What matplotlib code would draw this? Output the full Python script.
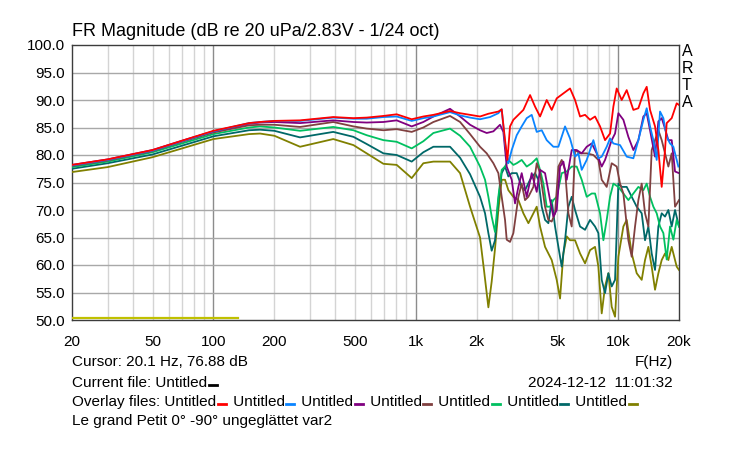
import matplotlib
matplotlib.use("Agg")
import matplotlib.pyplot as plt
from matplotlib.lines import Line2D

# ---- data ----
# common low-frequency points (Hz)
f_lo = [20, 30, 50, 70, 100, 150, 170, 200, 268, 391, 492, 572, 692, 805, 955, 1090, 1222, 1477, 1656, 1855]

red_lo = [78.2, 79.2, 80.9, 82.6, 84.4, 85.8, 86.0, 86.2, 86.3, 86.9, 86.7, 86.8, 87.1, 87.4, 86.5, 87.0, 87.3, 88.0, 87.6, 87.3]
blue_lo = [78.1, 79.1, 80.8, 82.5, 84.3, 85.8, 86.0, 86.2, 86.2, 86.8, 86.6, 86.6, 86.9, 87.0, 86.2, 86.7, 87.0, 87.8, 87.2, 86.8]
purple_lo = [78.2, 79.2, 80.9, 82.6, 84.3, 85.7, 85.9, 86.0, 85.8, 86.3, 86.0, 85.9, 86.0, 86.3, 85.2, 86.0, 87.0, 88.4, 87.0, 85.5]
brown_lo = [78.0, 79.0, 80.7, 82.4, 84.1, 85.4, 85.5, 85.5, 85.1, 86.0, 85.2, 84.8, 84.5, 84.7, 84.2, 85.0, 86.0, 87.1, 86.0, 83.8]
green_lo = [77.8, 78.8, 80.5, 82.1, 83.8, 85.0, 85.2, 85.0, 84.4, 85.1, 84.5, 83.6, 82.7, 82.4, 81.2, 82.5, 84.0, 84.8, 83.5, 81.5]
teal_lo = [77.5, 78.5, 80.1, 81.7, 83.4, 84.5, 84.6, 84.4, 83.2, 84.2, 83.3, 82.0, 80.3, 80.0, 78.8, 80.5, 81.5, 81.5, 79.5, 76.5]
olive_lo = [76.9, 77.8, 79.6, 81.2, 82.9, 83.8, 83.9, 83.5, 81.5, 82.9, 81.8, 80.3, 78.4, 78.2, 75.8, 78.5, 78.8, 78.8, 76.7, 70.6]

# high-frequency parts, each curve with its own points
red_hf_f = [2078, 2285, 2560, 2659, 2762, 2837, 2924, 3037, 3215, 3403, 3672, 3887, 4114, 4438, 4698, 4973, 5365,
            5788, 6127, 6486, 6866, 7267, 7693, 8143, 8620, 9124, 9477, 9843, 10420, 11030, 11899, 12596, 13333,
            13849, 14384, 15226, 15815, 16426, 17061, 17387, 18405, 19483, 20000]
red_hf = [87.0, 87.5, 87.9, 88.3, 82.7, 79.1, 85.2, 86.4, 87.3, 88.2, 90.9, 88.8, 87.0, 90.0, 88.2, 90.3, 91.2,
          92.1, 90.0, 87.0, 87.3, 86.4, 87.0, 85.2, 82.7, 83.9, 88.8, 92.1, 90.0, 91.8, 88.2, 88.5, 91.2,
          92.4, 88.2, 85.2, 80.9, 74.2, 80.9, 85.8, 86.7, 89.4, 89.1]

blue_hf_f = [2078, 2329, 2560, 2659, 2762, 2869, 2980, 3155, 3339, 3535, 3742, 3961, 4193, 4438, 4788, 5069, 5468,
             5788, 6127, 6364, 6610, 6997, 7548, 7990, 8299, 8785, 9124, 9477, 10224, 11030, 11899, 12596, 13333,
             13849, 14384, 14940, 15517, 16117, 16740, 17387, 18059, 18758, 19856]
blue_hf = [86.5, 86.9, 87.6, 88.3, 82.1, 78.5, 80.9, 83.6, 85.2, 86.7, 87.3, 84.2, 84.5, 82.7, 81.5, 81.5, 85.2,
           83.0, 79.7, 80.3, 77.3, 79.1, 82.7, 79.4, 79.7, 81.5, 83.0, 82.1, 81.8, 79.7, 79.4, 82.7, 86.4,
           88.5, 85.2, 82.7, 79.1, 87.9, 86.7, 83.3, 82.1, 81.5, 77.9]

purple_hf_f = [2078, 2242, 2419, 2609, 2710, 2815, 2980, 3095, 3215, 3339, 3535, 3742, 3961, 4114, 4355, 4610, 4788,
               4973, 5166, 5365, 5573, 5899, 6244, 6610, 6997, 7407, 7840, 8299, 8620, 8953, 9299, 9659, 10032,
               10619, 11241, 11899, 12596, 13333, 13849, 14384, 15226, 15815, 16426, 17061, 17720, 18405, 19117, 20000]
purple_hf = [84.5, 84.0, 84.3, 85.5, 84.2, 77.9, 75.5, 71.2, 74.2, 76.7, 72.4, 76.7, 73.3, 77.3, 76.7, 71.8, 68.8,
             70.0, 77.9, 78.8, 75.5, 80.9, 80.9, 80.3, 81.5, 82.1, 80.3, 77.9, 79.1, 80.9, 82.7, 83.9, 87.6,
             86.4, 83.3, 80.9, 82.7, 87.0, 87.6, 84.5, 79.7, 86.1, 86.7, 84.8, 82.7, 82.7, 77.0, 76.7]

brown_hf_f = [2078, 2242, 2419, 2560, 2659, 2762, 2815, 2924, 3037, 3215, 3339, 3468, 3603, 3814, 3961, 4114, 4355,
              4523, 4698, 4880, 5069, 5265, 5468, 5679, 5899, 6127, 6486, 6997, 7548, 7990, 8299, 8785, 9299, 9843,
              10224, 10619, 11241, 11676, 12127, 12596, 13083, 13588, 14114, 14659, 15226, 15815, 16426, 17061,
              17720, 18405, 19117, 20000]
brown_hf = [81.5, 80.3, 78.5, 76.7, 72.4, 68.2, 64.6, 64.2, 65.8, 72.4, 74.8, 71.8, 72.4, 74.2, 78.5, 76.7, 70.6,
            68.2, 67.9, 69.4, 77.9, 79.1, 77.3, 69.4, 67.0, 80.9, 80.3, 80.3, 80.0, 79.1, 75.5, 74.2, 78.5, 77.9,
            74.8, 73.0, 64.5, 61.5, 67.0, 71.8, 74.8, 69.4, 67.0, 80.9, 82.7, 84.5, 82.7, 80.3,
            77.9, 80.3, 70.6, 71.8]

green_hf_f = [2078, 2200, 2285, 2373, 2465, 2560, 2659, 2762, 2869, 3037, 3155, 3339, 3535, 3742, 3961, 4114, 4273,
              4438, 4610, 4788, 4973, 5265, 5573, 5899, 6244, 6610, 6997, 7407, 7693, 8143, 8458, 8785, 9124, 9477,
              10032, 10619, 11241, 11899, 12596, 13333, 13849, 14384, 14940, 15517, 16117, 16740, 17387, 18059,
              18758, 19483, 20000]
green_hf = [77.9, 75.5, 72.4, 68.8, 66.0, 72.4, 77.3, 77.9, 79.1, 78.2, 78.5, 79.1, 77.9, 78.5, 79.4, 77.3, 74.8,
            70.6, 70.6, 71.8, 72.4, 76.7, 77.0, 77.9, 77.9, 75.5, 72.4, 73.0, 73.0, 69.4, 64.5, 68.2, 72.4, 74.8,
            74.2, 73.0, 71.8, 73.0, 74.2, 73.6, 74.8, 72.4, 70.6, 69.4, 67.0, 65.8, 61.0, 67.0,
            64.6, 68.2, 67.0]

teal_hf_f = [2078, 2200, 2285, 2373, 2465, 2560, 2659, 2762, 2869, 2980, 3155, 3339, 3468, 3672, 3887, 4037, 4193,
             4355, 4523, 4698, 4880, 5069, 5265, 5468, 5679, 5899, 6127, 6486, 6866, 7267, 7693, 7990, 8299, 8620,
             8953, 9299, 9659, 10032, 10420, 11030, 11676, 12359, 13083, 13588, 14114, 14659, 15226, 15815, 16426,
             17061, 17720, 18405, 19117, 20000]
teal_hf = [72.4, 69.4, 65.8, 62.6, 64.5, 71.8, 76.7, 77.9, 76.1, 76.7, 76.7, 74.2, 73.6, 75.5, 76.7, 75.5, 70.6,
           68.2, 67.6, 71.8, 67.0, 63.3, 59.7, 64.5, 70.6, 72.4, 70.0, 67.0, 66.4, 68.2, 67.0, 65.8, 57.3, 54.9,
           58.5, 56.1, 57.3, 74.8, 74.2, 74.2, 72.4, 70.6, 69.4, 64.5, 67.0, 62.1, 59.1, 67.0, 69.4,
           68.8, 70.0, 67.0, 70.0, 67.0]

olive_hf_f = [2078, 2175, 2285, 2373, 2465, 2560, 2659, 2762, 2869, 3037, 3215, 3403, 3603, 3814, 3961, 4114, 4355,
              4523, 4698, 4973, 5166, 5365, 5573, 5788, 6127, 6486, 6866, 7267, 7693, 7990, 8299, 8620, 8953, 9299,
              9659, 10032, 10619, 11030, 11676, 12359, 13083, 13588, 14114, 14659, 15226, 15815, 16426, 17061,
              17720, 18405, 19483, 20000]
olive_hf = [65.0, 59.0, 52.3, 57.0, 63.0, 70.0, 75.5, 75.5, 73.6, 72.4, 71.8, 69.4, 67.6, 69.4, 70.6, 67.0, 63.3,
            62.1, 60.9, 57.3, 53.9, 62.1, 65.2, 64.5, 64.5, 62.1, 60.3, 62.7, 63.3, 59.7, 51.2, 56.1, 58.5, 52.4,
            50.6, 61.5, 67.0, 68.2, 62.1, 58.5, 57.3, 60.9, 63.3, 59.7, 55.5, 58.5, 60.9, 62.1,
            60.9, 63.3, 59.7, 59.1]

# the short flat trace at the bottom left
flat_f = [20, 132]
flat_db = [50.3, 50.3]

overlay_colors = ['#ff0000', '#0a84ff', '#800080', '#804040', '#00c060', '#006868', '#808000']

x_ticks = [20, 50, 100, 200, 500, 1000, 2000, 5000, 10000, 20000]
x_labels = ['20', '50', '100', '200', '500', '1k', '2k', '5k', '10k', '20k']
y_ticks = [50, 55, 60, 65, 70, 75, 80, 85, 90, 95, 100]

plt.rcParams['font.family'] = ['Liberation Sans', 'DejaVu Sans']

fig = plt.figure(figsize=(7.5, 4.5), dpi=100)
W, H = 750.0, 450.0
ax = fig.add_axes([72 / W, 1 - 320 / H, (679 - 72) / W, 275 / H])
ax.set_xscale('log')
ax.set_xlim(20, 20000)
ax.set_ylim(50, 100)

# grid like ARTA: light minor lines, darker decade lines
for dec in [10, 100, 1000, 10000]:
    for m in range(2, 10):
        v = dec * m
        if 20 < v < 20000:
            ax.axvline(v, color='#d4d4d4', lw=1.0, zorder=0)
for v in [100, 1000, 10000]:
    ax.axvline(v, color='#8c8c8c', lw=1.0, zorder=0)
for v in y_ticks[1:-1]:
    ax.axhline(v, color='#a8a8a8', lw=1.0, zorder=0)

curves = [
    (red_lo, red_hf_f, red_hf),
    (blue_lo, blue_hf_f, blue_hf),
    (purple_lo, purple_hf_f, purple_hf),
    (brown_lo, brown_hf_f, brown_hf),
    (green_lo, green_hf_f, green_hf),
    (teal_lo, teal_hf_f, teal_hf),
    (olive_lo, olive_hf_f, olive_hf),
]
for i in range(len(curves) - 1, -1, -1):
    lo, hf_f, hf = curves[i]
    ax.plot(f_lo + hf_f, lo + hf, color=overlay_colors[i], lw=1.3, zorder=2 + (len(curves) - i))

ax.plot(flat_f, flat_db, color='#c0c000', lw=1.6, zorder=10)

ax.set_xticks(x_ticks)
ax.set_xticklabels(x_labels)
ax.xaxis.set_minor_locator(matplotlib.ticker.NullLocator())
ax.set_yticks(y_ticks)
ax.set_yticklabels(['%.1f' % v for v in y_ticks])
ax.tick_params(axis='both', length=0, labelsize=11)
ax.tick_params(axis='x', pad=11)
ax.tick_params(axis='y', pad=5)
for s in ax.spines.values():
    s.set_color('#3c3c3c')
    s.set_linewidth(1.0)

# texts
fig.text(72 / W, 1 - 31 / H, 'FR Magnitude (dB re 20 uPa/2.83V - 1/24 oct)', fontsize=13, va='center')
for k, ch in enumerate('ARTA'):
    fig.text(682 / W, 1 - (52 + k * 16.7) / H, ch, fontsize=11.5, va='center')

fig.text(72 / W, 1 - 362 / H, 'Cursor: 20.1 Hz, 76.88 dB', fontsize=11, va='center')
fig.text(673 / W, 1 - 362 / H, 'F(Hz)', fontsize=11, va='center', ha='right')
fig.text(673 / W, 1 - 383 / H, '2024-12-12  11:01:32', fontsize=11, va='center', ha='right')
fig.text(72 / W, 1 - 421 / H, 'Le grand Petit 0\u00b0 -90\u00b0 ungegl\u00e4ttet var2', fontsize=11, va='center')

renderer = fig.canvas.get_renderer()


def write_row(y, parts):
    x = 72.0
    for txt, col in parts:
        t = fig.text(x / W, 1 - y / H, txt, fontsize=11, va='center')
        bb = t.get_window_extent(renderer)
        x = bb.x1
        fig.add_artist(Line2D([(x + 1.5) / W, (x + 9.5) / W], [1 - (y + 2) / H] * 2,
                              color=col, lw=2.0, transform=fig.transFigure))
        x += 12.5


write_row(383, [('Current file: Untitled', '#000000')])
parts = []
for i, c in enumerate(overlay_colors):
    parts.append(('Overlay files: Untitled' if i == 0 else ' Untitled', c))
write_row(402, parts)

fig.savefig('out.png', dpi=100, facecolor='white')
